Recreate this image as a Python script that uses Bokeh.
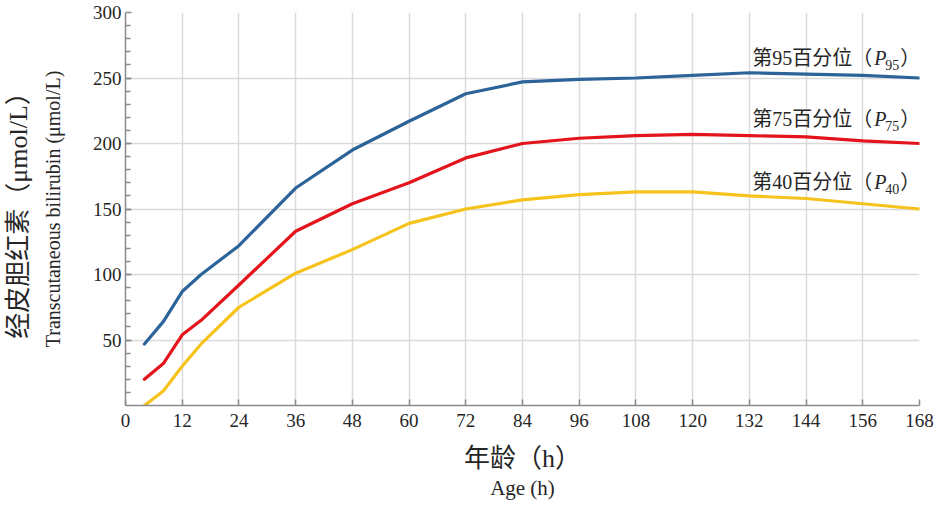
from bokeh.plotting import figure
from bokeh.models import LinearAxis, FixedTicker, Range1d
from bokeh.core.properties import value
from bokeh.embed import file_html
from bokeh.resources import INLINE

# ---- data ----
hours = [4, 8, 12, 16, 24, 36, 48, 60, 72, 84, 96, 108, 120, 132, 144, 156, 168]
p95 = [47, 64, 87, 100, 122, 166, 195, 217, 238, 247, 249, 250, 252, 254, 253, 252, 250]
p75 = [20, 32, 54, 65, 92, 133, 154, 170, 189, 200, 204, 206, 207, 206, 205, 202, 200]
p40 = [0, 11, 30, 47, 75, 101, 119, 139, 150, 157, 161, 163, 163, 160, 158, 154, 150]

x_ticks = [0, 12, 24, 36, 48, 60, 72, 84, 96, 108, 120, 132, 144, 156, 168]
y_ticks = [50, 100, 150, 200, 250, 300]
y_minor = list(range(10, 300, 10))

series_names = ["95", "75", "40"]
series_colors = ["#2c6399", "#e3141b", "#f6c21c"]
label_x = 158.0
label_y = [265.1, 218.4, 170.5]

FONT = "'Liberation Serif', 'Noto Sans CJK SC'"
TXT = "#262626"

p = figure(width=934, height=505, output_backend="svg", toolbar_location=None,
           x_range=Range1d(0, 168), y_range=Range1d(0, 300),
           min_border_left=117, min_border_right=15, min_border_top=12, min_border_bottom=100)
p.outline_line_color = None

# grid
p.xgrid.ticker = FixedTicker(ticks=x_ticks)
p.ygrid.ticker = FixedTicker(ticks=y_ticks)
for g in (p.xgrid, p.ygrid):
    g.grid_line_color = "#dadada"
    g.grid_line_width = 1.5

# lines
for vals, col in zip([p95, p75, p40], series_colors):
    p.line(hours, vals, line_color=col, line_width=3.2, line_join="round", line_cap="round")

# axes
AX = "#8a8a8a"
p.xaxis.ticker = FixedTicker(ticks=x_ticks)
p.yaxis.ticker = FixedTicker(ticks=y_ticks, minor_ticks=y_minor)
for ax in (p.xaxis[0], p.yaxis[0]):
    ax.axis_line_color = AX
    ax.axis_line_width = 1.5
    ax.major_tick_line_color = AX
    ax.major_tick_line_width = 1.5
    ax.major_tick_in = 6
    ax.major_tick_out = 0
    ax.minor_tick_line_color = AX
    ax.minor_tick_line_width = 1.5
    ax.minor_tick_in = 5
    ax.minor_tick_out = 0
    ax.major_label_text_font = FONT
    ax.major_label_text_font_size = "19px"
    ax.major_label_text_color = TXT
    ax.axis_label_text_font = FONT
    ax.axis_label_text_font_style = "normal"
    ax.axis_label_text_color = TXT

p.xaxis.major_label_standoff = 8
p.yaxis.major_label_standoff = 4

p.yaxis.axis_label = "Transcutaneous bilirubin (μmol/L)"
p.yaxis.axis_label_text_font_size = "20px"
p.yaxis.axis_label_standoff = 26

p.xaxis.axis_label = "年龄（h）"
p.xaxis.axis_label_text_font_size = "26px"
p.xaxis.axis_label_standoff = 14


def label_axis(text, size, standoff):
    a = LinearAxis(ticker=FixedTicker(ticks=[]), axis_label=text)
    a.axis_line_color = None
    a.major_tick_line_color = None
    a.minor_tick_line_color = None
    a.major_label_text_font_size = "0px"
    a.major_label_standoff = 0
    a.major_tick_in = 0
    a.major_tick_out = 0
    a.axis_label_text_font = FONT
    a.axis_label_text_font_size = size
    a.axis_label_text_font_style = "normal"
    a.axis_label_text_color = TXT
    a.axis_label_standoff = standoff
    return a


p.add_layout(label_axis("经皮胆红素（μmol/L）", "26px", 6), "left")
p.add_layout(label_axis("Age (h)", "21px", 0), "below")

# series labels: 第NN百分位（P_NN）
n = len(series_names)
xs = [label_x] * n
p.text(x=xs, y=label_y, text=["第" + s + "百分位（" for s in series_names],
       text_align="right", text_baseline="alphabetic", text_font=value(FONT),
       text_font_size="20px", text_color=TXT)
p.text(x=xs, y=label_y, text=["P"] * n, x_offset=2,
       text_align="left", text_baseline="alphabetic", text_font=value(FONT),
       text_font_style="italic", text_font_size="20px", text_color=TXT)
p.text(x=xs, y=label_y, text=series_names, x_offset=13, y_offset=7,
       text_align="left", text_baseline="alphabetic", text_font=value(FONT),
       text_font_size="14px", text_color=TXT)
p.text(x=xs, y=label_y, text=["）"] * n, x_offset=28,
       text_align="left", text_baseline="alphabetic", text_font=value(FONT),
       text_font_size="20px", text_color=TXT)

open("out.html", "w").write(file_html(p, INLINE))
